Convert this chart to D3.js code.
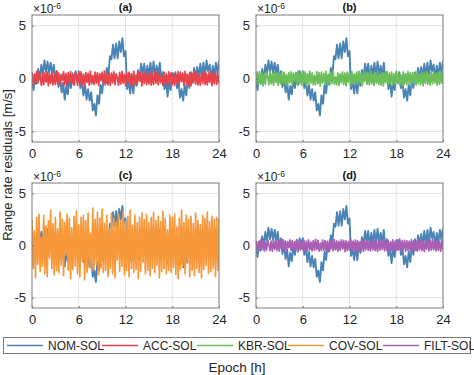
<!DOCTYPE html>
<html>
<head>
<meta charset="utf-8">
<script src="https://cdn.jsdelivr.net/npm/d3@7"></script>
<style>
  body { margin: 0; background: #fff; }
  svg { display: block; font-family: "Liberation Sans", Arial, sans-serif; }
</style>
</head>
<body>
<div id="chart"></div>
<script>
// residuals in 1e-6 m/s, sampled evenly over 0..24 h
var nomSol = [0.0,-1.1,0.4,-0.5,0.9,-0.1,1.3,0.4,1.7,0.6,1.6,0.5,1.5,0.4,1.3,-0.2,0.7,-0.8,0.2,-1.3,
  -0.4,-2.0,-0.7,-1.5,0.0,-0.9,0.5,-0.6,0.7,-0.3,0.7,-0.9,-0.1,-1.6,-0.6,-2.0,-1.0,-2.1,-1.3,-3.0,
  -2.4,-3.5,-1.6,-2.4,-0.6,-1.4,0.2,-0.6,1.0,0.3,2.1,1.8,3.2,1.9,3.3,1.9,3.5,2.5,3.8,2.1,
  2.6,-1.0,-0.3,-1.4,0.0,-1.4,0.1,-0.7,0.8,-0.1,1.4,0.4,1.4,-0.1,1.2,0.2,1.5,0.1,1.6,0.2,
  1.2,0.2,1.5,-0.2,0.6,-1.0,-0.2,-1.7,-0.3,-1.1,0.5,-0.4,0.6,-0.9,-0.2,-1.8,-1.0,-2.1,-0.6,-1.6,
  0.0,-0.9,0.6,-0.4,1.0,0.0,1.1,0.0,1.4,0.1,1.5,0.1,1.7,0.7,1.3,-0.1,1.2,0.2,1.5,0.5,1.7];

var accSol = [0.55,-0.62,0.38,-0.5,0.68,-0.41,0.6,0.22,-0.66,0.47,-0.58,0.52,-0.35,0.63,-0.7,0.44,-0.49,0.58,-0.6,0.31,
  -0.55,0.7,-0.46,0.5,-0.64,0.4,-0.18,0.62,-0.57,0.48,-0.69,0.56,-0.43,0.66,-0.52,0.35,-0.61,0.59,0.12,-0.65,
  0.51,-0.47,0.64,-0.59,0.42,-0.72,0.57,-0.38,0.49,-0.63,0.69,-0.5,0.28,-0.56,0.61,-0.44,0.53,-0.67,0.46,-0.2,
  0.6,-0.54,0.71,-0.48,0.37,-0.6,0.55,-0.66,0.5,-0.41,0.64,-0.57,0.45,0.08,-0.62,0.58,-0.53,0.67,-0.45,0.4,
  -0.68,0.52,-0.36,0.6,-0.58,0.47,-0.64,0.69,-0.5,0.33,-0.56,0.62,-0.25,0.54,-0.7,0.49,-0.46,0.65,-0.59,0.43,
  -0.51,0.58,-0.63,0.36,-0.55,0.7,-0.44,0.5,-0.6,0.61,-0.39,0.15,-0.66,0.57,-0.52,0.45,-0.69,0.63,-0.42,0.55,
  -0.58,0.48,-0.65,0.39,-0.47,0.66,-0.54,0.6,-0.3,0.52,-0.62,0.68,-0.49,0.41,-0.57,0.59,-0.71,0.46,-0.4,0.64,
  -0.53,0.56,-0.6,0.27,-0.64,0.5,-0.45,0.7,-0.56,0.44,-0.61,0.53,-0.37,0.62,-0.68,0.47,-0.5,0.6,-0.55,0.42,-0.49];

var kbrSol = [-0.48,0.6,-0.57,0.66,-0.4,0.52,-0.69,0.45,-0.55,0.62,0.2,-0.6,0.71,-0.5,0.43,-0.63,0.58,-0.37,0.54,-0.66,
  0.49,-0.52,0.68,-0.45,0.6,-0.58,0.36,-0.7,0.55,-0.42,0.64,-0.61,0.5,-0.26,0.59,-0.54,0.73,-0.47,0.41,-0.65,
  0.57,-0.39,0.62,-0.68,0.46,-0.53,0.7,-0.44,0.52,-0.6,0.3,-0.57,0.65,-0.49,0.55,-0.72,0.6,-0.42,0.48,-0.56,
  0.67,-0.5,0.38,-0.63,0.58,-0.46,0.69,-0.55,0.14,-0.61,0.54,-0.67,0.45,-0.4,0.63,-0.59,0.51,-0.7,0.6,-0.36,
  0.53,-0.64,0.66,-0.48,0.42,-0.57,0.6,-0.52,0.7,-0.44,0.5,-0.68,0.56,-0.3,0.62,-0.55,0.47,-0.6,0.69,-0.5,
  0.4,-0.66,0.58,-0.45,0.64,-0.56,0.36,-0.62,0.55,-0.7,0.49,-0.41,0.67,-0.58,0.52,-0.47,0.6,-0.63,0.44,-0.54,
  0.71,-0.49,0.57,-0.6,0.35,-0.67,0.62,-0.5,0.46,-0.58,0.68,-0.43,0.54,-0.65,0.59,-0.38,0.5,-0.61,0.66,-0.52,
  0.43,-0.57,0.6,-0.69,0.52,-0.46,0.64,-0.55,0.39,-0.62,0.57,-0.5,0.7,-0.44,0.48,-0.66,0.61,-0.53,0.56,-0.47,0.58];

var covSol = [2.5,-2.2,1.4,-3.1,2.7,-1.8,3.0,-2.5,0.8,-2.0,2.9,-2.7,1.9,-3.0,2.4,-1.2,3.4,-2.2,2.1,-2.8,
  2.7,-2.4,1.6,-2.6,3.2,-1.9,2.5,-2.9,2.2,-0.9,3.0,-2.4,2.6,-3.2,1.7,-2.3,2.8,-2.0,3.3,-2.7,
  2.0,-3.0,2.7,-1.5,2.9,-3.3,2.4,-2.6,3.1,-2.1,1.2,-2.5,3.6,-2.3,2.5,-1.8,3.2,-2.8,2.6,-2.2,
  3.5,-2.6,2.1,-2.4,2.9,-3.0,1.6,-2.2,3.1,-2.7,2.6,-3.1,2.2,-1.4,3.0,-2.5,2.4,-2.0,3.3,-2.8,
  2.3,-2.4,2.8,-3.0,3.4,-2.2,1.9,-2.6,2.9,-2.3,2.2,-3.2,2.7,-2.5,3.1,-1.6,2.5,-2.7,3.0,-2.4,
  2.2,-2.9,2.7,-2.2,3.2,-2.6,2.4,-1.9,2.8,-3.1,2.3,-2.5,3.3,-2.2,2.6,-2.7,1.5,-2.4,2.9,-2.6,
  2.7,-2.1,3.0,-2.8,1.8,-3.2,2.6,-2.3,3.4,-2.0,2.2,-2.7,2.9,-1.7,2.5,-3.0,2.8,-2.4,2.1,-2.9,
  3.1,-2.2,2.4,-2.6,2.0,-3.1,2.9,-2.3,2.6,-1.9,3.2,-2.7,2.3,-2.5,2.8,-2.2,2.5,-3.0,2.7,-2.4,2.6];

var filtSol = [0.45,-0.52,0.36,-0.47,0.55,-0.4,0.5,-0.54,0.3,-0.46,0.52,0.1,-0.5,0.42,-0.56,0.48,-0.38,0.53,-0.49,0.41,
  -0.55,0.5,-0.34,0.57,-0.46,0.44,-0.52,0.38,-0.2,0.54,-0.48,0.46,-0.58,0.35,-0.43,0.56,-0.5,0.4,-0.45,0.52,
  -0.37,0.49,-0.56,0.43,-0.5,0.55,-0.41,0.32,-0.53,0.47,-0.46,0.58,-0.39,0.5,-0.55,0.22,-0.48,0.53,-0.44,0.46,
  -0.52,0.39,-0.57,0.51,-0.36,0.48,-0.5,0.56,-0.43,0.45,-0.54,0.4,-0.47,0.55,-0.33,0.5,-0.58,0.44,-0.49,0.37,
  -0.45,0.57,-0.51,0.42,-0.39,0.53,-0.55,0.47,-0.44,0.35,-0.52,0.5,-0.57,0.45,-0.4,0.54,-0.48,0.38,-0.53,0.56,
  -0.42,0.46,-0.5,0.31,-0.56,0.52,-0.45,0.49,-0.38,0.57,-0.53,0.43,-0.47,0.5,-0.58,0.36,-0.44,0.55,-0.51,0.4,
  -0.48,0.53,-0.41,0.58,-0.54,0.44,-0.35,0.5,-0.57,0.47,-0.46,0.39,-0.52,0.56,-0.43,0.48,-0.5,0.34,-0.55,0.51,
  -0.44,0.55,-0.49,0.42,-0.58,0.46,-0.38,0.53,-0.51,0.49,-0.45,0.57,-0.4,0.43,-0.53,0.5,-0.47,0.36,-0.56,0.52,-0.45];

var xTicks = [0, 6, 12, 18, 24];
var yTicks = [-5, 0, 5];
var panelTitles = ["(a)", "(b)", "(c)", "(d)"];
var overlays = [accSol, kbrSol, covSol, filtSol];
var seriesNames = ["NOM-SOL", "ACC-SOL", "KBR-SOL", "COV-SOL", "FILT-SOL"];
var seriesColors = ["#4a83b5", "#e8434a", "#6cbe5b", "#f7983a", "#a95fb4"];

var width = 474, height = 375;
var svg = d3.select("#chart").append("svg")
  .attr("width", width)
  .attr("height", height);

var panels = [
  {x0: 32, x1: 219, y0: 15, y1: 142},
  {x0: 256, x1: 443, y0: 15, y1: 142},
  {x0: 32, x1: 219, y0: 183, y1: 308},
  {x0: 256, x1: 443, y0: 183, y1: 308}
];

panels.forEach(function (p, k) {
  var x = d3.scaleLinear().domain([0, 24]).range([p.x0, p.x1]);
  var y = d3.scaleLinear().domain([-6, 6]).range([p.y1, p.y0]);
  var g = svg.append("g");

  // grid
  g.selectAll(".gx").data(xTicks.slice(1, -1)).enter().append("line")
    .attr("x1", d => x(d)).attr("x2", d => x(d))
    .attr("y1", p.y0).attr("y2", p.y1)
    .attr("stroke", "#e3e3e3").attr("stroke-width", 1);
  g.selectAll(".gy").data(yTicks).enter().append("line")
    .attr("x1", p.x0).attr("x2", p.x1)
    .attr("y1", d => y(d)).attr("y2", d => y(d))
    .attr("stroke", "#e3e3e3").attr("stroke-width", 1);

  var clipId = "clip" + k;
  svg.append("clipPath").attr("id", clipId).append("rect")
    .attr("x", p.x0).attr("y", p.y0).attr("width", p.x1 - p.x0).attr("height", p.y1 - p.y0);

  var line = function (arr) {
    return d3.line()
      .x((d, i) => x(i * 24 / (arr.length - 1)))
      .y(d => y(d))(arr);
  };

  var plot = g.append("g").attr("clip-path", "url(#" + clipId + ")");
  plot.append("path").attr("d", line(nomSol))
    .attr("fill", "none").attr("stroke", seriesColors[0]).attr("stroke-width", 1.9)
    .attr("stroke-linejoin", "round");
  plot.append("path").attr("d", line(overlays[k]))
    .attr("fill", "none").attr("stroke", seriesColors[k + 1]).attr("stroke-width", 1.7)
    .attr("stroke-linejoin", "round");

  // axes
  var xAxis = d3.axisBottom(x).tickValues(xTicks).tickSize(-2).tickPadding(7);
  var gx = g.append("g").attr("transform", "translate(0," + p.y1 + ")").call(xAxis);
  var yAxis = d3.axisLeft(y).tickValues(yTicks).tickSize(-2).tickPadding(6).tickFormat(d3.format("d"));
  var gy = g.append("g").attr("transform", "translate(" + p.x0 + ",0)").call(yAxis);
  [gx, gy].forEach(function (a) {
    a.select(".domain").remove();
    a.selectAll("line").attr("stroke", "#7a7a7a");
    a.selectAll("text").attr("fill", "#262626").style("font-size", "13px")
      .style("font-family", "'Liberation Sans', Arial, sans-serif");
  });
  gy.selectAll("text").text(d => d < 0 ? "-" + Math.abs(d) : d);

  g.append("rect")
    .attr("x", p.x0).attr("y", p.y0)
    .attr("width", p.x1 - p.x0).attr("height", p.y1 - p.y0)
    .attr("fill", "none").attr("stroke", "#7a7a7a").attr("stroke-width", 1);

  // exponent label
  var ex = g.append("text")
    .attr("x", p.x0 + 1).attr("y", p.y0 - 2)
    .attr("fill", "#262626").style("font-size", "12px");
  ex.append("tspan").text("\u00d710");
  ex.append("tspan").attr("dy", -4).style("font-size", "8.5px").text("-6");

  g.append("text")
    .attr("x", (p.x0 + p.x1) / 2).attr("y", p.y0 - 4)
    .attr("text-anchor", "middle")
    .attr("fill", "#111").style("font-size", "11px").style("font-weight", "bold")
    .text(panelTitles[k]);
});

svg.append("text")
  .attr("transform", "translate(12,165) rotate(-90)")
  .attr("text-anchor", "middle")
  .attr("fill", "#262626").style("font-size", "13px")
  .text("Range rate residuals  [m/s]");

// legend
var legend = svg.append("g");
legend.append("rect")
  .attr("x", 3.5).attr("y", 337.5).attr("width", 467).attr("height", 16)
  .attr("fill", "#fff").attr("stroke", "#7a7a7a").attr("stroke-width", 1);
var legendX = [7, 102, 197, 288, 383];
seriesNames.forEach(function (name, i) {
  var it = legend.append("g").attr("transform", "translate(" + legendX[i] + ",345.5)");
  it.append("line")
    .attr("x1", 0).attr("x2", 36).attr("y1", 0).attr("y2", 0)
    .attr("stroke", seriesColors[i]).attr("stroke-width", 1.5);
  it.append("text")
    .attr("x", 41).attr("y", 4.5)
    .attr("fill", "#262626").style("font-size", "12px")
    .text(name);
});

svg.append("text")
  .attr("x", 237).attr("y", 372)
  .attr("text-anchor", "middle")
  .attr("fill", "#262626").style("font-size", "13.5px")
  .text("Epoch  [h]");
</script>
</body>
</html>
